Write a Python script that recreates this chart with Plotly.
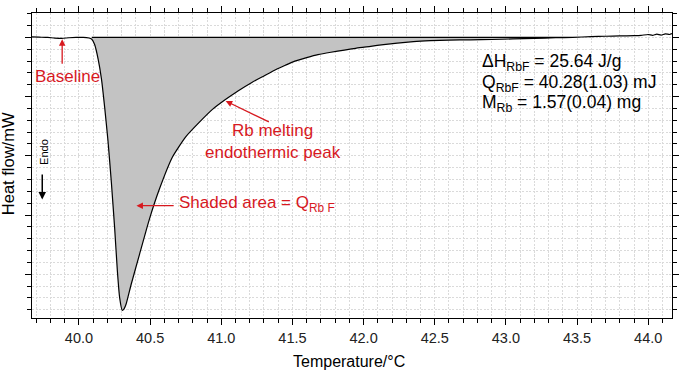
import plotly.graph_objects as go

# ---- data ----
temperature = [39.67, 39.72, 39.78, 39.83, 39.88, 39.93, 39.98, 40.03, 40.07, 40.09,
               40.11, 40.135, 40.158, 40.181, 40.204, 40.228, 40.251, 40.27, 40.286, 40.304,
               40.318, 40.332, 40.367, 40.425, 40.495, 40.564, 40.657, 40.75, 40.843, 40.936,
               41.029, 41.12, 41.215, 41.30, 41.378, 41.45, 41.517, 41.60, 41.679, 41.77,
               41.865, 41.95, 42.05, 42.14, 42.237, 42.35, 42.47, 42.6, 42.75, 42.9,
               43.05, 43.2, 43.35, 43.47, 43.6, 43.7, 43.8, 43.9, 43.95, 44.0,
               44.03, 44.06, 44.09, 44.12, 44.15, 44.167]
heat_flow = [0.01, 0.005, 0.0, -0.01, -0.015, -0.005, 0.0, 0.0, -0.01, -0.03,
             -0.12, -0.37, -0.70, -1.19, -1.75, -2.46, -3.23, -3.95, -4.40, -4.61,
             -4.58, -4.50, -4.17, -3.67, -3.07, -2.57, -2.02, -1.68, -1.44, -1.22,
             -1.05, -0.90, -0.76, -0.65, -0.55, -0.47, -0.40, -0.34, -0.29, -0.25,
             -0.215, -0.18, -0.15, -0.12, -0.095, -0.07, -0.055, -0.045, -0.04, -0.035,
             -0.025, -0.015, -0.005, 0.0, 0.015, 0.02, 0.025, 0.03, 0.035, 0.05,
             0.035, 0.055, 0.04, 0.06, 0.05, 0.065]
baseline_T = [40.09, 43.47]
baseline_y = [0.0, 0.0]
x_tickvals = [40.0, 40.5, 41.0, 41.5, 42.0, 42.5, 43.0, 43.5, 44.0]
x_ticktext = ["40.0", "40.5", "41.0", "41.5", "42.0", "42.5", "43.0", "43.5", "44.0"]

RED = "#d7191f"
FONT = "Liberation Sans, Arial, sans-serif"

fill_T = [t for t in temperature if baseline_T[0] <= t <= baseline_T[1]]
fill_y = [h for t, h in zip(temperature, heat_flow) if baseline_T[0] <= t <= baseline_T[1]]

fig = go.Figure()
fig.add_trace(go.Scatter(x=fill_T, y=fill_y, mode="lines", fill="tozeroy",
                         fillcolor="#c3c3c3", line=dict(width=0, shape="spline", smoothing=0.5),
                         hoverinfo="skip", showlegend=False))
fig.add_trace(go.Scatter(x=baseline_T, y=baseline_y, mode="lines",
                         line=dict(color="black", width=1.3), showlegend=False))
fig.add_trace(go.Scatter(x=temperature, y=heat_flow, mode="lines",
                         line=dict(color="black", width=1.2, shape="spline", smoothing=0.5),
                         showlegend=False))

grid = dict(showgrid=True, gridcolor="#dadada", griddash="2px,1.5px", gridwidth=1)

fig.update_layout(
    width=685, height=372,
    margin=dict(l=32, r=8, t=6, b=54),
    paper_bgcolor="white", plot_bgcolor="white",
    font=dict(family=FONT, color="black"),
    xaxis=dict(range=[39.67, 44.167], tickvals=x_tickvals, ticktext=x_ticktext,
               ticks="outside", ticklen=6, tickwidth=1, tickcolor="black",
               showline=True, linecolor="black", linewidth=1.2, mirror="ticks",
               zeroline=False, tickfont=dict(size=14.5, color="#222"),
               minor=dict(dtick=0.1, tick0=0, ticks="outside", ticklen=3.5, tickcolor="black",
                          **grid),
               **grid),
    yaxis=dict(range=[-4.74, 0.413], tick0=0, dtick=1, showticklabels=False,
               ticks="outside", ticklen=6, tickwidth=1, tickcolor="black",
               showline=True, linecolor="black", linewidth=1.2, mirror="ticks",
               zeroline=False,
               minor=dict(dtick=0.2, tick0=0, ticks="outside", ticklen=3.5, tickcolor="black",
                          **grid),
               **grid),
)

ann = []
# axis titles
ann.append(dict(text="Temperature/°C", xref="paper", yref="paper", x=0.496, y=-0.143,
                showarrow=False, font=dict(size=16), xanchor="center", yanchor="middle"))
ann.append(dict(text="Heat flow/mW", xref="paper", yref="paper", x=-0.0372, y=0.505,
                showarrow=False, font=dict(size=16.5), textangle=-90,
                xanchor="center", yanchor="middle"))
# Endo marker
ann.append(dict(text="Endo", x=39.749, y=-1.93, showarrow=False, textangle=-90,
                font=dict(size=11), xanchor="center", yanchor="middle"))
ann.append(dict(text="", x=39.742, y=-2.74, ax=39.742, ay=-2.29, axref="x", ayref="y",
                showarrow=True, arrowhead=2, arrowsize=1, arrowwidth=1.5, arrowcolor="black"))
# Baseline
ann.append(dict(text="Baseline", x=39.916, y=-0.66, showarrow=False,
                font=dict(size=17, color=RED), xanchor="center", yanchor="middle"))
ann.append(dict(text="", x=39.882, y=-0.03, ax=39.882, ay=-0.47, axref="x", ayref="y",
                showarrow=True, arrowhead=2, arrowsize=1, arrowwidth=1.3, arrowcolor=RED))
# Rb melting
ann.append(dict(text="Rb melting<br>endothermic peak", x=41.366, y=-1.75, showarrow=False,
                font=dict(size=17, color=RED), xanchor="center", yanchor="middle"))
ann.append(dict(text="", x=41.031, y=-1.074, ax=41.345, ay=-1.44, axref="x", ayref="y",
                showarrow=True, arrowhead=2, arrowsize=1, arrowwidth=1.3, arrowcolor=RED))
# Shaded area
ann.append(dict(text="Shaded area = Q<sub>Rb F</sub>", x=40.69, y=-2.81, showarrow=False,
                font=dict(size=17, color=RED), xanchor="left", yanchor="middle"))
ann.append(dict(text="", x=40.404, y=-2.843, ax=40.676, ay=-2.843, axref="x", ayref="y",
                showarrow=True, arrowhead=2, arrowsize=1, arrowwidth=1.3, arrowcolor=RED))
# result block
ann.append(dict(text="ΔH<sub>RbF</sub> = 25.64 J/g", x=42.82, y=-0.43, showarrow=False,
                font=dict(size=17.5), xanchor="left", yanchor="middle"))
ann.append(dict(text="Q<sub>RbF</sub> = 40.28(1.03) mJ", x=42.82, y=-0.775, showarrow=False,
                font=dict(size=17.5), xanchor="left", yanchor="middle"))
ann.append(dict(text="M<sub>Rb</sub> = 1.57(0.04) mg", x=42.82, y=-1.12, showarrow=False,
                font=dict(size=17.5), xanchor="left", yanchor="middle"))

fig.update_layout(annotations=ann)
fig.write_html("out.html", config={"displayModeBar": False},
               post_script="document.body.style.margin='0';document.body.style.padding='0';")
